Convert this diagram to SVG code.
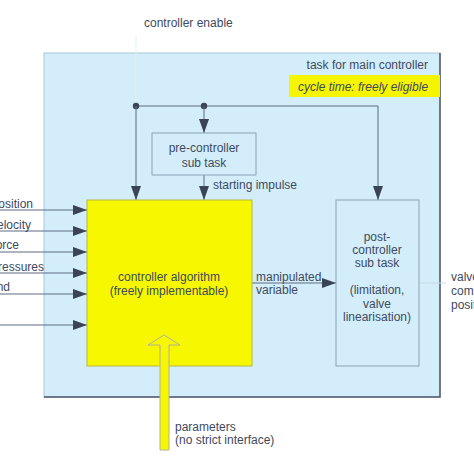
<svg xmlns="http://www.w3.org/2000/svg" width="474" height="474" viewBox="0 0 474 474">
<defs>
<style>
text{font-family:"Liberation Sans",Arial,sans-serif;font-size:12px;fill:#3e4a5e}
.c{text-anchor:middle}
.e{text-anchor:end}
.ln{stroke:#5c6a80;stroke-width:1;fill:none}
</style>
<marker id="ah" viewBox="0 0 14 10" refX="14" refY="5" markerWidth="14" markerHeight="10" markerUnits="userSpaceOnUse" orient="auto">
<path d="M0,0 L14,5 L0,10 Z" fill="#3a4456"/>
</marker>
</defs>
<rect width="474" height="474" fill="#ffffff"/>
<g id="main-task">
<rect x="44" y="53" width="396" height="344" fill="#d3eefa" stroke="#a9c6d6"/>
<path d="M440,53 V397 H44" fill="none" stroke="#4c586a" stroke-width="1.5"/>
<text x="428" y="69" class="e">task for main controller</text>
<rect x="289" y="75" width="151" height="22" fill="#f5f500"/>
<text x="298" y="91" font-style="italic" style="font-style:italic">cycle time: freely eligible</text>
</g>
<text x="144" y="27">controller enable</text>
<g id="connectors">
<line x1="136" y1="36" x2="136" y2="106" stroke="#e4eef2"/>
<line class="ln" x1="136" y1="106" x2="378" y2="106"/>
<circle cx="136" cy="106" r="3.2" fill="#3a4456"/>
<circle cx="204" cy="106" r="3.2" fill="#3a4456"/>
<line class="ln" x1="204" y1="106" x2="204" y2="133" marker-end="url(#ah)"/>
<line class="ln" x1="378" y1="106" x2="378" y2="200" marker-end="url(#ah)"/>
<line class="ln" x1="136" y1="106" x2="136" y2="200" marker-end="url(#ah)"/>
<line class="ln" x1="204" y1="175" x2="204" y2="200" marker-end="url(#ah)"/>
<line class="ln" x1="0" y1="210" x2="87" y2="210" marker-end="url(#ah)"/>
<line class="ln" x1="0" y1="231" x2="87" y2="231" marker-end="url(#ah)"/>
<line class="ln" x1="0" y1="252" x2="87" y2="252" marker-end="url(#ah)"/>
<line class="ln" x1="0" y1="273" x2="87" y2="273" marker-end="url(#ah)" stroke-width="1.6"/>
<line class="ln" x1="0" y1="294" x2="87" y2="294" marker-end="url(#ah)"/>
<line class="ln" x1="0" y1="325" x2="87" y2="325" marker-end="url(#ah)"/>
<line class="ln" x1="252" y1="283" x2="336" y2="283" marker-end="url(#ah)"/>
<line x1="419" y1="283" x2="446" y2="283" stroke="#c8dae4"/>
</g>
<text x="213" y="189">starting impulse</text>
<text x="33" y="208" class="e">position</text>
<text x="31" y="229" class="e">velocity</text>
<text x="19" y="249" class="e">force</text>
<text x="44" y="271" class="e">pressures</text>
<text x="10" y="291" class="e">command</text>
<text x="256" y="281">manipulated</text>
<text x="256" y="294">variable</text>
<text x="451" y="281">valve</text>
<text x="451" y="295">command</text>
<text x="451" y="309">position</text>
<g id="pre-controller">
<rect x="152" y="133" width="104" height="42" fill="#d3eefa" stroke="#8aa2b4"/>
<text x="204" y="152" class="c">pre-controller</text>
<text x="204" y="167" class="c">sub task</text>
</g>
<g id="controller-algorithm">
<rect x="87" y="200" width="165" height="166" fill="#f7f700" stroke="#b8b83a"/>
<text x="169" y="281" class="c">controller algorithm</text>
<text x="169" y="295" class="c">(freely implementable)</text>
</g>
<g id="post-controller">
<rect x="336" y="200" width="83" height="166" fill="#d3eefa" stroke="#8aa2b4"/>
<text x="377" y="241" class="c">post-</text>
<text x="377" y="254" class="c">controller</text>
<text x="377" y="267" class="c">sub task</text>
<text x="377" y="294" class="c">(limitation,</text>
<text x="377" y="308" class="c">valve</text>
<text x="377" y="321" class="c">linearisation)</text>
</g>
<g id="parameters">
<path d="M160,450 V345 H148 L164,335 L180,345 H169 V450 Z" fill="#f7f700" stroke="#b0b0a0" stroke-width="1"/>
<text x="175" y="431">parameters</text>
<text x="175" y="444">(no strict interface)</text>
</g>
</svg>
